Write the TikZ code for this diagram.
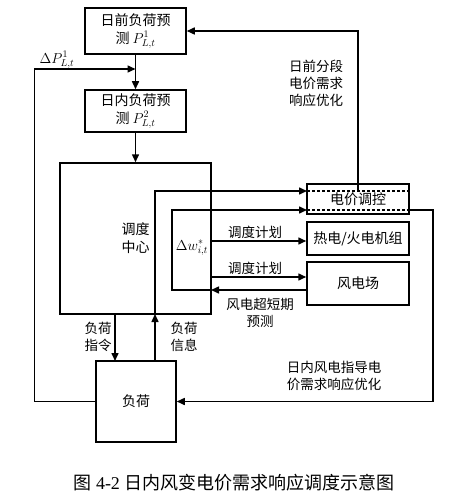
\documentclass[tikz,border=0pt]{standalone}
\usepackage{fontspec}
\setmainfont{Liberation Serif}
\newfontfamily\cjk{Noto Sans CJK SC}
\usetikzlibrary{arrows.meta,calc}
\begin{document}
\begin{tikzpicture}[x=1pt,y=-1pt,
  every node/.style={font=\cjk\fontsize{14}{18}\selectfont,inner sep=0pt,align=center},
  blk/.style={draw,line width=1.5pt,minimum width=#1,anchor=center},
  arr/.style={line width=1.5pt,-{Triangle[length=8pt,width=7pt]}},
  dsh/.style={line width=1.5pt,dash pattern=on 3pt off 2pt},
  lbl/.style={font=\cjk\fontsize{13.5}{17}\selectfont}]
\useasboundingbox (0,0) rectangle (474,500);
% boxes
\node[blk=101pt,minimum height=46pt] (b1) at (135.5,31) {日前负荷预\\测 $P^{1}_{L,t}$};
\node[blk=101pt,minimum height=42pt] (b2) at (135.5,111) {日内负荷预\\测 $P^{2}_{L,t}$};
\node[blk=151pt,minimum height=151pt] (dc) at (135.5,238.5) {调度\\中心};
\node[blk=102pt,minimum height=30pt] (pc) at (358,199) {电价调控};
\node[blk=102pt,minimum height=33pt] (th) at (358,238.5) {热电/火电机组};
\node[blk=102pt,minimum height=43pt] (wf) at (358,283.5) {风电场};
\node[blk=80pt,minimum height=81pt] (ld) at (136,401.5) {负荷};
% coordinates
\coordinate (j1) at (135.5,69);
\coordinate (pcA) at (307,191);
\coordinate (pcAr) at (409,191);
\coordinate (pcB) at (307,210);
\coordinate (pcBr) at (409,210);
\coordinate (pcTop) at (358,191);
\coordinate (ldN2) at (155,361);
\coordinate (dcB2) at (155,314);
\coordinate (ldN1) at (115,361);
\coordinate (dcB1) at (115,314);
\coordinate (wfW) at (307,290);
\coordinate (dcE) at (211,290);
\coordinate (thA) at (211,241);
\coordinate (wfA) at (211,277);
% connectors
\draw[arr] (b1.south) -- (b2.north);
\draw[arr] (b2.south) -- (dc.north);
\draw[arr] (ld.west) -- ++(-61,0) |- (j1);
\draw[arr] (pcTop) |- (b1.east);
\draw[dsh] (pcA) -- (pcAr);
\draw[dsh] (pcB) -- (pcBr);
\draw[arr] (ldN2) -- (dcB2);
\draw[arr] (dcB2) |- (pcA);
\draw[arr] (dcB1) -- (ldN1);
\draw[arr] (wfW) -- (dcE);
\draw[arr] (dcE) -- ++(-39,0) |- (pcB);
\draw[arr] (thA) -- (thA -| th.west);
\draw[arr] (wfA) -- (wfA -| wf.west);
\draw[arr] (pcBr) -- ++(24,0) |- (ld.east);
% labels
\node[lbl] (l1) at (316,83) {日前分段\\电价需求\\响应优化};
\node (l2) at (57,60) {$\Delta P^{1}_{L,t}$};
\node (l3) at (192,248) {$\Delta w^{*}_{i,t}$};
\node[lbl] (l4) at (255,232) {调度计划};
\node[lbl] (l5) at (255,268) {调度计划};
\node[lbl] (l6) at (260,313) {风电超短期\\预测};
\node[lbl] (l7) at (98,337) {负荷\\指令};
\node[lbl] (l8) at (184,337) {负荷\\信息};
\node[lbl] (l9) at (334,376) {日内风电指导电\\价需求响应优化};
\node[font=\fontsize{18}{20}\selectfont] (cap) at (234,483) {{\cjk 图} 4-2 {\cjk 日内风变电价需求响应调度示意图}};
\end{tikzpicture}
\end{document}
